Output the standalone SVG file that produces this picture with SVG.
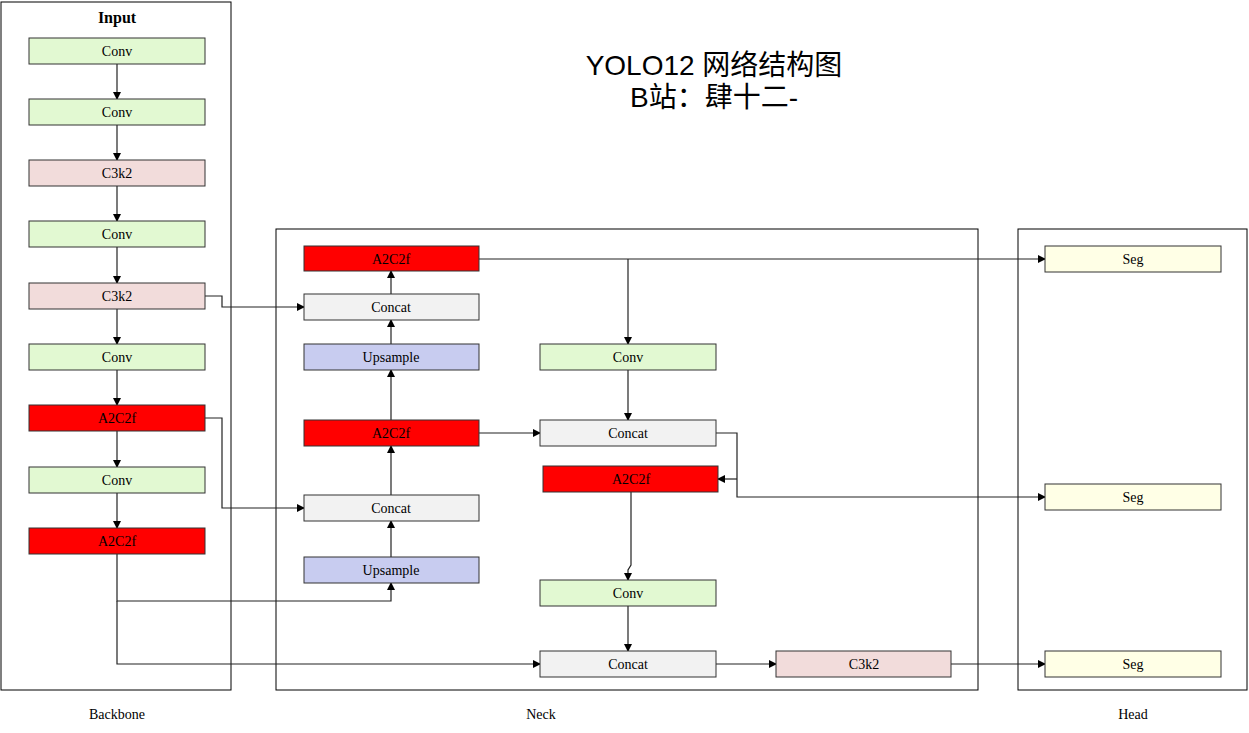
<svg xmlns="http://www.w3.org/2000/svg" width="1249" height="733" viewBox="0 0 1249 733">
<defs>
<style>
.frame{fill:#fff;stroke:#000;stroke-width:1}
.n{stroke:#333;stroke-width:1}
.g{fill:#e2f9d2}.p{fill:#f2dcdb}.r{fill:#ff0000}.c{fill:#f2f2f2}.b{fill:#c8ccf0}.y{fill:#ffffe6}
text{font-family:"Liberation Serif",serif;font-size:14px;text-anchor:middle}
.t{font-family:"Liberation Sans","Noto Sans CJK SC",sans-serif;font-size:28px}
.e{fill:none;stroke:#222;stroke-width:1.2}
</style>
<marker id="a" markerWidth="8" markerHeight="8" refX="7" refY="4" orient="auto" markerUnits="userSpaceOnUse"><path d="M0,0 L8,4 L0,8 Z" fill="#000"/></marker>
</defs>
<rect width="1249" height="733" fill="#fff"/>
<rect class="frame" x="1" y="2" width="230" height="688"/>
<rect class="frame" x="276" y="229" width="702" height="461"/>
<rect class="frame" x="1018" y="229" width="229" height="461"/>
<text x="117" y="23" style="font-weight:bold;font-size:16px">Input</text>
<text class="t" x="714" y="75">YOLO12 网络结构图</text>
<text class="t" x="714" y="107">B站：肆十二-</text>
<text x="117" y="719">Backbone</text>
<text x="541" y="719">Neck</text>
<text x="1133" y="719">Head</text>
<g id="connectors">
<path class="e" marker-end="url(#a)" d="M117,64V99"/>
<path class="e" marker-end="url(#a)" d="M117,125V160"/>
<path class="e" marker-end="url(#a)" d="M117,186V221"/>
<path class="e" marker-end="url(#a)" d="M117,247V283"/>
<path class="e" marker-end="url(#a)" d="M117,309V344"/>
<path class="e" marker-end="url(#a)" d="M117,370V405"/>
<path class="e" marker-end="url(#a)" d="M117,431V467"/>
<path class="e" marker-end="url(#a)" d="M117,493V528"/>
<path class="e" marker-end="url(#a)" d="M205,296H222V307H304"/>
<path class="e" marker-end="url(#a)" d="M205,418H222V508H304"/>
<path class="e" marker-end="url(#a)" d="M117,554V601H391V583"/>
<path class="e" marker-end="url(#a)" d="M117,601V664H540"/>
<path class="e" marker-end="url(#a)" d="M391,557V521"/>
<path class="e" marker-end="url(#a)" d="M391,495V446"/>
<path class="e" marker-end="url(#a)" d="M391,420V370"/>
<path class="e" marker-end="url(#a)" d="M391,344V320"/>
<path class="e" marker-end="url(#a)" d="M391,294V271"/>
<path class="e" marker-end="url(#a)" d="M479,259H1045"/>
<path class="e" marker-end="url(#a)" d="M628,259V344"/>
<path class="e" marker-end="url(#a)" d="M628,370V420"/>
<path class="e" marker-end="url(#a)" d="M479,433H540"/>
<path class="e" marker-end="url(#a)" d="M716,433H737V497H1045"/>
<path class="e" marker-end="url(#a)" d="M737,479H718"/>
<path class="e" marker-end="url(#a)" d="M631,492V565L628,570V580"/>
<path class="e" marker-end="url(#a)" d="M628,606V651"/>
<path class="e" marker-end="url(#a)" d="M716,664H776"/>
<path class="e" marker-end="url(#a)" d="M951,664H1045"/>
</g>
<g id="b1"><rect class="n g" x="29" y="38" width="176" height="26"/><text x="117" y="56">Conv</text></g>
<g id="b2"><rect class="n g" x="29" y="99" width="176" height="26"/><text x="117" y="117">Conv</text></g>
<g id="b3"><rect class="n p" x="29" y="160" width="176" height="26"/><text x="117" y="178">C3k2</text></g>
<g id="b4"><rect class="n g" x="29" y="221" width="176" height="26"/><text x="117" y="239">Conv</text></g>
<g id="b5"><rect class="n p" x="29" y="283" width="176" height="26"/><text x="117" y="301">C3k2</text></g>
<g id="b6"><rect class="n g" x="29" y="344" width="176" height="26"/><text x="117" y="362">Conv</text></g>
<g id="b7"><rect class="n r" x="29" y="405" width="176" height="26"/><text x="117" y="423">A2C2f</text></g>
<g id="b8"><rect class="n g" x="29" y="467" width="176" height="26"/><text x="117" y="485">Conv</text></g>
<g id="b9"><rect class="n r" x="29" y="528" width="176" height="26"/><text x="117" y="546">A2C2f</text></g>
<g id="n1"><rect class="n r" x="304" y="246" width="175" height="25"/><text x="391" y="264">A2C2f</text></g>
<g id="n2"><rect class="n c" x="304" y="294" width="175" height="26"/><text x="391" y="312">Concat</text></g>
<g id="n3"><rect class="n b" x="304" y="344" width="175" height="26"/><text x="391" y="362">Upsample</text></g>
<g id="n4"><rect class="n r" x="304" y="420" width="175" height="26"/><text x="391" y="438">A2C2f</text></g>
<g id="n5"><rect class="n c" x="304" y="495" width="175" height="26"/><text x="391" y="513">Concat</text></g>
<g id="n6"><rect class="n b" x="304" y="557" width="175" height="26"/><text x="391" y="575">Upsample</text></g>
<g id="n7"><rect class="n g" x="540" y="344" width="176" height="26"/><text x="628" y="362">Conv</text></g>
<g id="n8"><rect class="n c" x="540" y="420" width="176" height="26"/><text x="628" y="438">Concat</text></g>
<g id="n9"><rect class="n r" x="543" y="466" width="175" height="26"/><text x="631" y="484">A2C2f</text></g>
<g id="n10"><rect class="n g" x="540" y="580" width="176" height="26"/><text x="628" y="598">Conv</text></g>
<g id="n11"><rect class="n c" x="540" y="651" width="176" height="26"/><text x="628" y="669">Concat</text></g>
<g id="n12"><rect class="n p" x="776" y="651" width="175" height="26"/><text x="864" y="669">C3k2</text></g>
<g id="h1"><rect class="n y" x="1045" y="246" width="176" height="26"/><text x="1133" y="264">Seg</text></g>
<g id="h2"><rect class="n y" x="1045" y="484" width="176" height="26"/><text x="1133" y="502">Seg</text></g>
<g id="h3"><rect class="n y" x="1045" y="651" width="176" height="26"/><text x="1133" y="669">Seg</text></g>
</svg>
